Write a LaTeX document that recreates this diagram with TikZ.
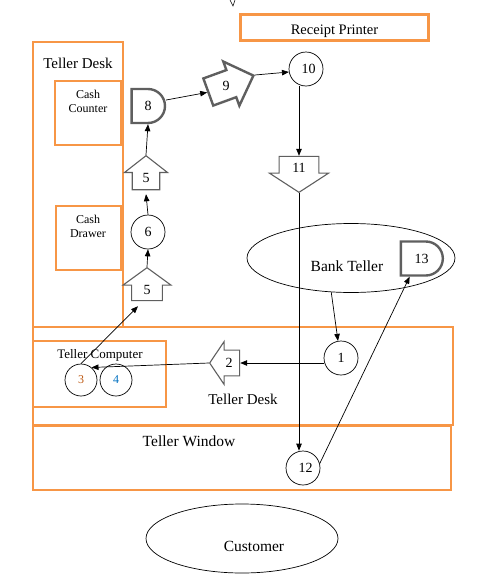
\documentclass[tikz,border=0pt]{standalone}
\usepackage{fontspec}
\setmainfont{Liberation Serif}
\usetikzlibrary{arrows.meta,shapes.geometric,shapes.misc,shapes.arrows}
\definecolor{deskorange}{RGB}{247,150,70}
\definecolor{shapegrey}{RGB}{95,95,95}
\definecolor{numbrown}{RGB}{190,90,20}
\definecolor{numblue}{RGB}{0,112,192}

\begin{document}
\begin{tikzpicture}[x=1pt, y=-1pt, >={Triangle[length=7pt,width=5.5pt]},
		deskbox/.style={draw=deskorange, line width=2.6pt},
		numcirc/.style={circle, draw, line width=0.7pt, minimum size=34pt, inner sep=0pt, font=\fontsize{14}{14}\selectfont},
		dnode/.style={rounded rectangle, rounded rectangle west arc=none, draw=shapegrey, line width=2.4pt, inner sep=0pt, font=\fontsize{14}{14}\selectfont},
		blockarr/.style={single arrow, draw=shapegrey, line width=1.1pt, inner xsep=0pt, font=\fontsize{14}{14}\selectfont},
		flow/.style={->, line width=0.7pt}]
	\useasboundingbox (0,0) rectangle (497,584);

	\draw[line width=0.5pt] (230,0) -- (233,6) -- (235,0);

	\draw[deskbox] (33,42) rectangle (123,327);
	\draw[deskbox] (55,81) rectangle (121,145);
	\draw[deskbox] (56,206) rectangle (121,270);
	\draw[deskbox] (33,327) rectangle (453,425);
	\draw[deskbox] (33,341) rectangle (166,407);
	\draw[deskbox] (33,426) rectangle (451,490);
	\node[deskbox, minimum width=188pt, minimum height=26pt, text height=14pt, text depth=0pt, font=\fontsize{14.5}{14.5}\selectfont] (printer) at (334.5,27.5) {Receipt Printer};

	\node[font=\fontsize{15}{15}\selectfont] (deskA) at (78,63) {Teller Desk};
	\node[align=center, font=\fontsize{12}{14}\selectfont] (counter) at (88,101) {Cash\\Counter};
	\node[align=center, font=\fontsize{12}{14}\selectfont] (drawer) at (88,226) {Cash\\Drawer};
	\node[font=\fontsize{13}{13}\selectfont] (computer) at (100,355) {Teller Computer};
	\node[font=\fontsize{15}{15}\selectfont] (deskB) at (243,399) {Teller Desk};
	\node[font=\fontsize{15.5}{15.5}\selectfont] (window) at (189,441) {Teller Window};

	\node[ellipse, draw, line width=0.7pt, minimum width=208pt, minimum height=69pt] (bt) at (351,258) {};
	\node[font=\fontsize{15.5}{15.5}\selectfont] (btlabel) at (347,266) {Bank Teller};
	\node[ellipse, draw, line width=0.7pt, minimum width=192pt, minimum height=69pt] (cust) at (242,538.5) {};
	\node[font=\fontsize{15.5}{15.5}\selectfont] (custlabel) at (254,546) {Customer};

	\node[numcirc] (n10) at (306,69) {\hspace{5pt}10};
	\node[numcirc] (n6) at (148,232) {6\hspace{3pt}};
	\node[numcirc] (n1) at (341,358) {1};
	\node[numcirc] (n12) at (303,468) {\hspace{5pt}12};
	\node[numcirc, minimum size=32pt, font=\fontsize{12}{12}\selectfont, text=numbrown] (n3) at (81,380) {3\hspace{8pt}};
	\node[numcirc, minimum size=32pt, font=\fontsize{12}{12}\selectfont, text=numblue] (n4) at (116,380) {4\hspace{6pt}};

	\node[dnode, minimum width=33pt, minimum height=34pt] (n8) at (148,106) {8};
	\node[dnode, minimum width=42pt, minimum height=34pt] (n13) at (421.5,258.5) {13};

	\node[blockarr, rotate=-90, anchor=tip, inner ysep=7.5pt, minimum height=36pt, minimum width=59pt, single arrow tip angle=114] (n11) at (299,193) {\rotatebox{90}{11}};
	\node[blockarr, rotate=90, anchor=tip, inner ysep=8.5pt, minimum height=33pt, minimum width=48pt, single arrow tip angle=108] (n5a) at (147,267) {\rotatebox{-90}{5}};
	\node[blockarr, rotate=90, anchor=tip, inner ysep=8.5pt, minimum height=34pt, minimum width=43pt, single arrow tip angle=104] (n5b) at (146,155) {\rotatebox{-90}{5}};
	\node[blockarr, rotate=180, anchor=tip, inner ysep=5.5pt, minimum height=30pt, minimum width=43pt, single arrow tip angle=112] (n2) at (209,363) {\rotatebox{180}{2}};
	\node[blockarr, line width=2.4pt, rotate=20, anchor=tip, inner ysep=3.8pt, minimum height=48pt, minimum width=47pt] (n9) at (255,75) {\rotatebox{-20}{\hspace{4pt}9}};

	\draw[flow] (n10.south -| n11.tail) -- (n11.tail);
	\draw[flow] (n11.tip) -- (n11.tip |- n12.north);
	\draw[flow] (n12.15) -- ([xshift=10pt]n13.south west);
	\draw[flow] (bt.240) -- (n1.100);
	\draw[flow] (n2.tail -| n1.west) -- (n2.tail);
	\draw[flow] (n2.tip) -- (n3.50);
	\draw[flow] (n3.north) -- ([shift={(-9,5)}]n5a.tail);
	\draw[flow] (n5a.tip) -- (n6.south);
	\draw[flow] (n6.north) -- ([yshift=-4pt]n5b.tail);
	\draw[flow] (n5b.tip) -- (n8.south);
	\draw[flow] ([yshift=6pt]n8.east) -- (n9.tail);
	\draw[flow] (n9.tip) -- (n10.190);
\end{tikzpicture}
\end{document}
